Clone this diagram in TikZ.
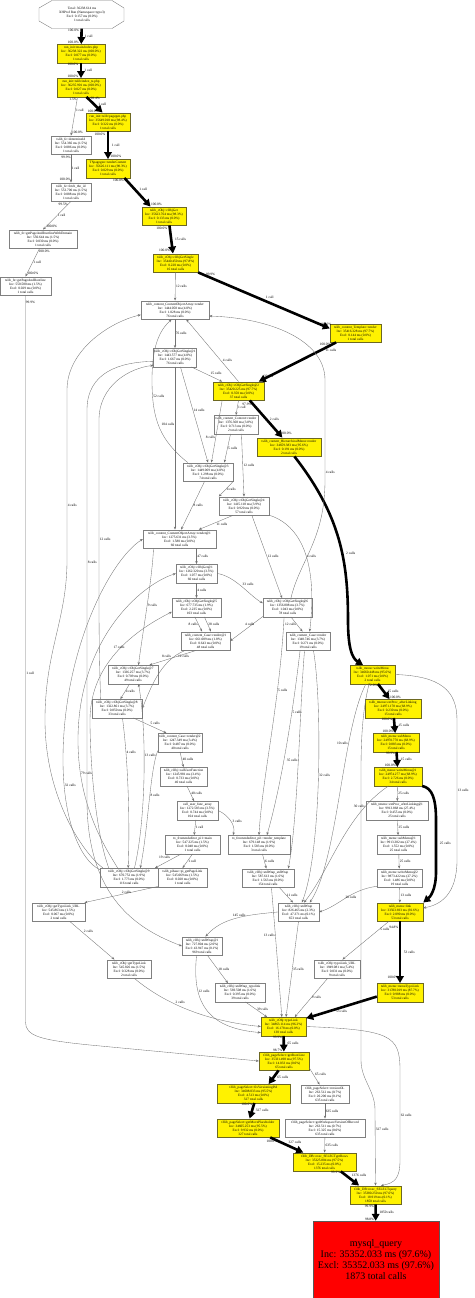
\documentclass[tikz,border=0pt]{standalone}
\usepackage{fontspec}
\setmainfont{Liberation Serif}
\usetikzlibrary{arrows.meta}
\newcommand\fnsize{\fontsize{3.4}{4.1}\selectfont}
\newcommand\lbsize{\fontsize{3.5}{4}\selectfont}

\begin{document}
\begin{tikzpicture}[
  x=1pt, y=-1pt,
  fn/.style={rectangle, draw=gray, line width=0.4pt, fill=white,
             inner xsep=1pt, inner ysep=0.8pt, minimum height=18.5, font=\fnsize, align=center},
  hotfn/.style={fn, fill=yellow, draw=olive!70!black},
  call/.style={-{Stealth[length=3pt,width=2.4pt]}, draw=black!55, line width=0.35pt},
  hotcall/.style={-{Triangle[length=7pt,width=7.5pt]}, line width=2.6pt, black},
  lbl/.style={font=\lbsize, inner sep=0.6pt},
  pct/.style={font=\lbsize, inner sep=0.3pt}
]
\useasboundingbox (0,0) rectangle (474,1298);

% root of the run
\draw[draw=gray, line width=0.4pt] (52,0.5) -- (112,0.5) -- (124,8) -- (124,21) -- (112,28.5)
  -- (52,28.5) -- (39,21) -- (39,8) -- cycle;
\node[font=\fnsize, align=center, minimum height=28, minimum width=60, inner sep=0pt] (root) at (82,14.5)
  {Total: 36238.614 ms\\XHProf Run (Namespace=typo3)\\Excl: 0.157 ms (0.0\%)\\1 total calls};

% functions
\node[hotfn, minimum width=48] (idx) at (81,53.5) {run\_init::main/index.php\\Inc: 36238.322 ms (100.0\%)\\Excl: 0.077 ms (0.0\%)\\1 total calls};
\node[hotfn, minimum width=48] (idxts) at (81,87.5) {run\_init::tslib/index\_ts.php\\Inc: 36235.901 ms (100.0\%)\\Excl: 0.027 ms (0.0\%)\\1 total calls};
\node[hotfn, minimum width=44] (pagegen) at (108,122) {run\_init::tslib/pagegen.php\\Inc: 35649.018 ms (98.4\%)\\Excl: 0.322 ms (0.0\%)\\1 total calls};
\node[fn, minimum width=40] (determineId) at (71,145) {tslib\_fe::determineId\\Inc: 554.366 ms (1.5\%)\\Excl: 0.086 ms (0.0\%)\\1 total calls};
\node[hotfn, minimum width=44] (renderContent) at (108,168.5) {TSpagegen::renderContent\\Inc: 35626.111 ms (98.3\%)\\Excl: 0.029 ms (0.0\%)\\1 total calls};
\node[fn, minimum width=40] (fetchId) at (71,192) {tslib\_fe::fetch\_the\_id\\Inc: 553.700 ms (1.5\%)\\Excl: 0.088 ms (0.0\%)\\1 total calls};
\node[hotfn, minimum width=44] (cObjGet) at (164,216) {tslib\_cObj::cObjGet\\Inc: 35623.764 ms (98.3\%)\\Excl: 0.133 ms (0.0\%)\\1 total calls};
\node[fn, minimum width=68] (getPRWD) at (43,239) {tslib\_fe::getPageAndRootlineWithDomain\\Inc: 550.644 ms (1.5\%)\\Excl: 0.030 ms (0.0\%)\\1 total calls};
\node[fn, minimum width=51] (getPR) at (25.5,286) {tslib\_fe::getPageAndRootline\\Inc: 550.580 ms (1.5\%)\\Excl: 0.029 ms (0.0\%)\\1 total calls};
\node[hotfn, minimum width=45] (gsY) at (175.5,263) {tslib\_cObj::cObjGetSingle\\Inc: 35440.450 ms (97.8\%)\\Excl: 0.220 ms (0.0\%)\\16 total calls};
\node[fn, minimum width=68] (coa) at (175,310) {tslib\_content\_ContentObjectArray::render\\Inc: 1444.058 ms (4.0\%)\\Excl: 1.028 ms (0.0\%)\\76 total calls};
\node[hotfn, minimum width=51] (tmpl) at (355.5,333) {tslib\_content\_Template::render\\Inc: 35416.328 ms (97.7\%)\\Excl: 0.144 ms (0.0\%)\\1 total calls};
\node[fn, minimum width=42] (gs1) at (175,357.5) {tslib\_cObj::cObjGetSingle@1\\Inc: 1443.577 ms (4.0\%)\\Excl: 1.667 ms (0.0\%)\\76 total calls};
\node[hotfn, minimum width=51] (gs1y) at (238.5,391) {tslib\_cObj::cObjGetSingle@2\\Inc: 35420.225 ms (97.7\%)\\Excl: 0.350 ms (0.0\%)\\37 total calls};
\node[fn, minimum width=44] (contentRender) at (236,424.5) {tslib\_content\_Content::render\\Inc: 1376.368 ms (3.8\%)\\Excl: 0.713 ms (0.0\%)\\2 total calls};
\node[hotfn, minimum width=64] (hmenu) at (289,447) {tslib\_content\_HierarchicalMenu::render\\Inc: 34659.383 ms (95.6\%)\\Excl: 0.191 ms (0.0\%)\\2 total calls};
\node[fn, minimum width=50] (gs2) at (208,472) {tslib\_cObj::cObjGetSingle@3\\Inc: 1449.069 ms (4.0\%)\\Excl: 1.298 ms (0.0\%)\\74 total calls};
\node[fn, minimum width=50] (gs3) at (244,506) {tslib\_cObj::cObjGetSingle@4\\Inc: 1415.118 ms (3.9\%)\\Excl: 0.920 ms (0.0\%)\\57 total calls};
\node[fn, minimum width=73] (coa1) at (179.5,539) {tslib\_content\_ContentObjectArray::render@1\\Inc: 1275.631 ms (3.5\%)\\Excl: 1.580 ms (0.0\%)\\60 total calls};
\node[fn, minimum width=41] (cObjGet1) at (196.5,573.5) {tslib\_cObj::cObjGet@1\\Inc: 1262.320 ms (3.5\%)\\Excl: 1.077 ms (0.0\%)\\60 total calls};
\node[fn, minimum width=49] (gs4) at (196.5,607.5) {tslib\_cObj::cObjGetSingle@5\\Inc: 677.735 ms (1.9\%)\\Excl: 2.235 ms (0.0\%)\\103 total calls};
\node[fn, minimum width=49] (gs5) at (287.5,607.5) {tslib\_cObj::cObjGetSingle@6\\Inc: 1356.808 ms (3.7\%)\\Excl: 1.043 ms (0.0\%)\\78 total calls};
\node[fn, minimum width=49] (caseRender1) at (205.5,641) {tslib\_content\_Case::render@1\\Inc: 661.089 ms (1.8\%)\\Excl: 0.643 ms (0.0\%)\\48 total calls};
\node[fn, minimum width=44] (caseRender) at (308,641) {tslib\_content\_Case::render\\Inc: 1348.746 ms (3.7\%)\\Excl: 0.271 ms (0.0\%)\\19 total calls};
\node[hotfn, minimum width=45] (writeMenu) at (372.5,674.5) {tslib\_menu::writeMenu\\Inc: 34660.448 ms (95.6\%)\\Excl: 1.071 ms (0.0\%)\\2 total calls};
\node[fn, minimum width=50] (gs6) at (133,674.5) {tslib\_cObj::cObjGetSingle@7\\Inc: 1336.257 ms (3.7\%)\\Excl: 0.709 ms (0.0\%)\\49 total calls};
\node[fn, minimum width=50] (gs7) at (117,708.5) {tslib\_cObj::cObjGetSingle@8\\Inc: 1322.861 ms (3.7\%)\\Excl: 0.850 ms (0.0\%)\\33 total calls};
\node[hotfn, minimum width=56] (afterLinking) at (393,708.5) {tslib\_tmenu::extProc\_afterLinking\\Inc: 24971.178 ms (68.9\%)\\Excl: 0.230 ms (0.0\%)\\15 total calls};
\node[fn, minimum width=44] (caseRender2) at (180,742.5) {tslib\_content\_Case::render@2\\Inc: 1247.349 ms (3.4\%)\\Excl: 0.487 ms (0.0\%)\\40 total calls};
\node[hotfn, minimum width=46] (subMenu) at (396,742.5) {tslib\_menu::subMenu\\Inc: 24970.770 ms (68.9\%)\\Excl: 0.883 ms (0.0\%)\\15 total calls};
\node[fn, minimum width=47] (cuf) at (183.5,776.5) {tslib\_cObj::callUserFunction\\Inc: 1245.981 ms (3.4\%)\\Excl: 0.733 ms (0.0\%)\\40 total calls};
\node[hotfn, minimum width=48] (writeMenu1) at (398,776.5) {tslib\_menu::writeMenu@1\\Inc: 24974.277 ms (68.9\%)\\Excl: 2.726 ms (0.0\%)\\34 total calls};
\node[fn, minimum width=41] (cufa) at (197.5,810.5) {call\_user\_func\_array\\Inc: 1272.583 ms (3.5\%)\\Excl: 0.744 ms (0.0\%)\\104 total calls};
\node[fn, minimum width=62] (afterLinking1) at (397,810.5) {tslib\_tmenu::extProc\_afterLinking@1\\Inc: 9913.868 ms (27.4\%)\\Excl: 0.455 ms (0.0\%)\\25 total calls};
\node[fn, minimum width=55] (feMain) at (192.5,844.5) {tx\_frontendeditor\_pi1::main\\Inc: 547.325 ms (1.5\%)\\Excl: 0.048 ms (0.0\%)\\1 total calls};
\node[fn, minimum width=62] (renderTemplate) at (259,844.5) {tx\_frontendeditor\_pi1::render\_template\\Inc: 679.148 ms (1.9\%)\\Excl: 1.583 ms (0.0\%)\\3 total calls};
\node[fn, minimum width=43] (subMenu1) at (398.5,844.5) {tslib\_menu::subMenu@1\\Inc: 9913.382 ms (27.4\%)\\Excl: 1.552 ms (0.0\%)\\25 total calls};
\node[fn, minimum width=58] (gs8) at (129,877.5) {tslib\_cObj::cObjGetSingle@9\\Inc: 670.752 ms (1.9\%)\\Excl: 1.773 ms (0.0\%)\\116 total calls};
\node[fn, minimum width=49] (piGetPageLink) at (182.5,877.5) {tslib\_pibase::pi\_getPageLink\\Inc: 545.069 ms (1.5\%)\\Excl: 0.028 ms (0.0\%)\\1 total calls};
\node[fn, minimum width=52] (stdWrapX) at (268,878) {tslib\_cObj::stdWrap\_stdWrap\\Inc: 587.613 ms (1.6\%)\\Excl: 1.563 ms (0.0\%)\\154 total calls};
\node[fn, minimum width=45] (writeMenu2) at (399.5,878) {tslib\_menu::writeMenu@2\\Inc: 9873.422 ms (27.2\%)\\Excl: 1.486 ms (0.0\%)\\19 total calls};
\node[fn, minimum width=53] (getTypoLinkURL) at (58.5,912) {tslib\_cObj::getTypoLink\_URL\\Inc: 545.863 ms (1.5\%)\\Excl: 0.067 ms (0.0\%)\\2 total calls};
\node[fn, minimum width=41] (stdWrap) at (298.5,912) {tslib\_cObj::stdWrap\\Inc: 826.465 ms (2.3\%)\\Excl: 47.371 ms (0.1\%)\\653 total calls};
\node[hotfn, minimum width=46] (link) at (400,912) {tslib\_menu::link\\Inc: 33563.693 ms (92.6\%)\\Excl: 2.090 ms (0.0\%)\\53 total calls};
\node[fn, minimum width=40] (stdWrap1) at (202,946) {tslib\_cObj::stdWrap@1\\Inc: 727.804 ms (2.0\%)\\Excl: 43.947 ms (0.1\%)\\969 total calls};
\node[fn, minimum width=44] (getTypoLink) at (129,969) {tslib\_cObj::getTypoLink\\Inc: 545.826 ms (1.5\%)\\Excl: 0.328 ms (0.0\%)\\2 total calls};
\node[fn, minimum width=46] (typoLinkURL) at (337,969) {tslib\_cObj::typoLink\_URL\\Inc: 1949.081 ms (5.4\%)\\Excl: 0.031 ms (0.0\%)\\9 total calls};
\node[fn, minimum width=50] (stdWrapTypolink) at (240,992.5) {tslib\_cObj::stdWrap\_typolink\\Inc: 569.508 ms (1.6\%)\\Excl: 0.395 ms (0.0\%)\\39 total calls};
\node[hotfn, minimum width=46] (menuTypoLink) at (400,992.5) {tslib\_menu::menuTypoLink\\Inc: 31780.019 ms (87.7\%)\\Excl: 0.988 ms (0.0\%)\\53 total calls};
\node[hotfn, minimum width=45] (typoLink) at (283.5,1026.5) {tslib\_cObj::typoLink\\Inc: 34863.114 ms (96.2\%)\\Excl: 16.178 ms (0.0\%)\\130 total calls};
\node[hotfn, minimum width=50] (getRootLine) at (284,1061) {t3lib\_pageSelect::getRootLine\\Inc: 35331.498 ms (97.5\%)\\Excl: 14.033 ms (0.0\%)\\65 total calls};
\node[hotfn, minimum width=73] (fixVPid) at (253.5,1093.5) {t3lib\_pageSelect::fixVersioningPid\\Inc: 34608.033 ms (95.5\%)\\Excl: 4.513 ms (0.0\%)\\327 total calls};
\node[fn, minimum width=48] (versionOL) at (325,1094) {t3lib\_pageSelect::versionOL\\Inc: 263.512 ms (0.7\%)\\Excl: 20.200 ms (0.1\%)\\635 total calls};
\node[hotfn, minimum width=62] (getMovePH) at (248,1128) {t3lib\_pageSelect::getMovePlaceholder\\Inc: 34605.253 ms (95.5\%)\\Excl: 9.932 ms (0.0\%)\\327 total calls};
\node[fn, minimum width=80] (getWVOR) at (325,1128) {t3lib\_pageSelect::getWorkspaceVersionOfRecord\\Inc: 263.511 ms (0.7\%)\\Excl: 15.325 ms (0.0\%)\\635 total calls};
\node[hotfn, minimum width=63] (execGetRows) at (324.5,1162) {t3lib\_DB::exec\_SELECTgetRows\\Inc: 35325.804 ms (97.5\%)\\Excl: 15.235 ms (0.0\%)\\1376 total calls};
\node[hotfn, minimum width=51] (execQuery) at (375.5,1195) {t3lib\_DB::exec\_SELECTquery\\Inc: 35380.250 ms (97.6\%)\\Excl: 18.919 ms (0.1\%)\\1850 total calls};
\node[fn, fill=red, draw=gray!70!black, minimum width=126, minimum height=77, font=\fontsize{10}{10.8}\selectfont]
  (mysql) at (376,1259.5) {mysql\_query\\Inc: 35352.033 ms (97.6\%)\\Excl: 35352.033 ms (97.6\%)\\1873 total calls};

% critical path
\draw[hotcall] (root) -- (idx) node[lbl,midway,right=1.5pt]{1 call} node[pct,pos=0.1,left=1pt]{100.0\%} node[pct,pos=0.9,left=1pt]{100.0\%};
\draw[hotcall] (idx) -- (idxts) node[lbl,midway,right=1.5pt]{1 call} node[pct,pos=0.1,left=1pt]{100.0\%} node[pct,pos=0.9,left=1pt]{100.0\%};
\draw[hotcall] (idxts.300) -- (pagegen.120) node[lbl,midway,right=2pt]{1 call} node[pct,pos=0.1,right=1pt]{98.4\%} node[pct,pos=0.92,left=1pt]{100.0\%};
\draw[hotcall] (pagegen) -- (renderContent) node[lbl,midway,right=2pt]{1 call} node[pct,pos=0.1,left=1pt]{100.0\%} node[pct,pos=0.9,right=1pt]{100.0\%};
\draw[hotcall] (renderContent.330) -- (cObjGet.145) node[lbl,midway,above right]{1 call} node[pct,pos=0.08,left=1pt]{100.0\%} node[pct,pos=0.92,right=1pt]{100.0\%};
\draw[hotcall] (cObjGet.300) -- (gsY.105) node[lbl,midway,right=2pt]{15 calls} node[pct,pos=0.1,left=1pt]{100.0\%} node[pct,pos=0.9,left=1pt]{100.0\%};
\draw[hotcall] (gsY.south east) -- (tmpl.170) node[lbl,midway,above right]{1 call} node[pct,pos=0.04,right=1pt]{99.9\%} node[pct,pos=0.97,above]{100.0\%};
\draw[hotcall] (tmpl.206) -- (gs1y.25) node[lbl,pos=0.2,right=3pt]{11 calls} node[pct,pos=0.05,left]{100.0\%} node[pct,pos=0.95,above right]{30.3\%};
\draw[hotcall] (gs1y.320) -- (hmenu.125) node[lbl,midway,right=2pt]{2 calls} node[pct,pos=0.1,left]{97.9\%} node[pct,pos=0.9,right]{100.0\%};
\draw[hotcall] (hmenu.300) .. controls (340,515) and (348,560) .. (348,620) node[lbl,pos=0.6,right=2pt]{2 calls}
  .. controls (348,648) and (352,658) .. (writeMenu.135);
\draw[hotcall] (writeMenu.300) -- (afterLinking.110) node[lbl,midway,right=2pt]{15 calls} node[pct,pos=0.1,left]{72.0\%} node[pct,pos=0.9,right]{100.0\%};
\draw[hotcall] (afterLinking) -- (subMenu) node[lbl,midway,right=2pt]{15 calls} node[pct,pos=0.1,left]{100.0\%} node[pct,pos=0.9,left]{100.0\%};
\draw[hotcall] (subMenu) -- (writeMenu1) node[lbl,midway,right=2pt]{15 calls} node[pct,pos=0.1,left]{99.9\%} node[pct,pos=0.9,left]{100.0\%};
\draw[hotcall] (writeMenu1.south east) .. controls (432,788) and (436,798) .. (436,820) -- (436,872) node[lbl,pos=0.45,right=2pt]{25 calls}
  .. controls (436,890) and (430,897) .. (link.north east);
\draw[hotcall] (link) -- (menuTypoLink) node[lbl,midway,right=2pt]{53 calls} node[pct,pos=0.1,left]{94.8\%} node[pct,pos=0.9,left]{100.0\%};
\draw[hotcall] (menuTypoLink.190) -- (typoLink.20) node[lbl,midway,below=1pt]{53 calls};
\draw[hotcall] (typoLink) -- (getRootLine) node[lbl,midway,right=2pt]{65 calls} node[pct,pos=0.1,left]{99.9\%} node[pct,pos=0.9,left]{98.7\%};
\draw[hotcall] (getRootLine.240) -- (fixVPid.32) node[lbl,midway,right=2pt]{65 calls};
\draw[hotcall] (fixVPid.275) -- (getMovePH.80) node[lbl,midway,right=2pt]{327 calls} node[pct,pos=0.1,left]{100.0\%};
\draw[hotcall] (getMovePH.337) -- (execGetRows.156) node[lbl,midway,above right]{327 calls} node[pct,pos=0.05,below]{100.0\%};
\draw[hotcall] (execGetRows.330) -- (execQuery.150) node[lbl,midway,above right]{1376 calls} node[pct,pos=0.05,left]{99.9\%};
\draw[hotcall] (execQuery) -- (mysql) node[lbl,midway,right=2pt]{1850 calls} node[pct,pos=0.1,left]{99.9\%} node[pct,pos=0.9,left]{98.8\%};

% page id lookup
\draw[call] (idxts.250) -- (determineId.north) node[lbl,pos=0.35,right]{1 call} node[pct,pos=0.06,left]{1.5\%} node[pct,pos=0.92,right]{100.0\%};
\draw[call] (determineId) -- (fetchId) node[lbl,midway,right]{1 call} node[pct,pos=0.1,left]{99.9\%} node[pct,pos=0.9,left]{100.0\%};
\draw[call] (fetchId.south) -- (getPRWD.north) node[lbl,midway,right]{1 call} node[pct,pos=0.1,left]{99.5\%} node[pct,pos=0.9,right]{100.0\%};
\draw[call] (getPRWD.250) -- (getPR.north) node[lbl,midway,right]{1 call} node[pct,pos=0.1,right]{100.0\%} node[pct,pos=0.9,right]{100.0\%};
\draw[call] (getPR.south) -- (getPR.south |- 0,1022) node[lbl,pos=0.52,right]{1 call} node[pct,pos=0.01,right]{99.9\%}
  .. controls (25.5,1036) and (40,1040) .. (90,1045) -- (getRootLine.west);

% content objects
\draw[call] (gsY) -- (coa) node[lbl,midway,right]{12 calls};
\draw[call] (coa) -- (gs1) node[lbl,midway,right]{76 calls};
\draw[call] (gs1.330) -- (gs1y.150) node[lbl,pos=0.6,above right]{15 calls};
\draw[call] (gs1y.north) -- (coa.320) node[lbl,pos=0.35,right=2pt]{4 calls};
\draw[call] (gs2.155) .. controls (160,440) and (152,420) .. (152,380) node[lbl,pos=0.85,right]{52 calls}
  .. controls (152,345) and (160,330) .. (coa.250);
\draw[call] (gs1.south) -- (gs1.south |- coa1.north) node[lbl,pos=0.35,left]{104 calls};
\draw[call] (gs1.300) -- (gs2.north) node[lbl,pos=0.45,right]{14 calls};
\draw[call] (gs1y.210) -- (gs2.70) node[lbl,pos=0.6,left]{8 calls};
\draw[call] (contentRender.240) -- (gs2.30) node[lbl,pos=0.5,right]{5 calls};
\draw[call] (gs2.250) -- (coa1.80) node[lbl,midway,right]{8 calls};
\draw[call] (gs2.south east) -- (gs3.north west) node[lbl,midway,right]{4 calls};
\draw[call] (gs3.220) -- (coa1.26) node[lbl,midway,below right]{11 calls};
\draw[call] (gs1y.south) -- (contentRender.north) node[lbl,midway,right]{1 call};
\draw[call] (contentRender.300) -- (gs3.north) node[lbl,midway,right]{12 calls};
\draw[call] (gs3.310) -- (gs5.120) node[lbl,midway,right]{12 calls};
\draw[call] (gs3.340) .. controls (300,525) and (318,560) .. (caseRender.80) node[lbl,pos=0.55,right]{4 calls};
\draw[call] (gs5.70) .. controls (300,560) and (325,540) .. (325,480) -- (325,380) node[lbl,pos=0.08,right]{4 calls}
  .. controls (325,340) and (270,318) .. (coa.350);
\draw[call] (coa1.south -| cObjGet1.north) -- (cObjGet1.north) node[lbl,midway,right]{47 calls};
\draw[call] (cObjGet1) -- (gs4) node[lbl,midway,right]{4 calls};
\draw[call] (cObjGet1.east) .. controls (235,576) and (250,596) .. (gs5.170) node[lbl,pos=0.5,above right]{33 calls};
\draw[call] (gs4.260) -- (caseRender1.110) node[lbl,midway,left]{8 calls};
\draw[call] (gs4.310) -- (caseRender1.60) node[lbl,midway,right]{28 calls};
\draw[call] (gs5.290) -- (caseRender.120) node[lbl,midway,left]{12 calls};
\draw[call] (gs5.200) -- (caseRender1.east) node[lbl,pos=0.4,above]{4 calls};
\draw[call] (coa1.200) .. controls (152,580) and (143,630) .. (gs6.60) node[lbl,pos=0.5,right]{9 calls};
\draw[call] (caseRender1.225) -- (gs6.30) node[lbl,pos=0.4,right]{12 calls};
\draw[call] (caseRender1.205) .. controls (160,660) and (150,690) .. (gs7.east) node[lbl,pos=0.2,above left]{8 calls};
\draw[call] (gs6.250) -- (gs7.70) node[lbl,midway,right]{4 calls};
\draw[call] (gs7.330) -- (caseRender2.145) node[lbl,midway,above right]{5 calls};
\draw[call] (caseRender2.south) -- (cuf.north) node[lbl,midway,right]{40 calls};
\draw[call] (cuf.290) -- (cufa.110) node[lbl,midway,right]{40 calls};
\draw[call] (cufa.260) -- (feMain.80) node[lbl,midway,right]{1 call};
\draw[call] (feMain.220) -- (gs8.20) node[lbl,pos=0.4,above left]{19 calls};
\draw[call] (feMain.south) -- (piGetPageLink.north) node[lbl,midway,right]{1 call};

% long recursion loops on the left
\draw[call] (gs8.160) .. controls (85,855) and (45,800) .. (45,720) .. controls (45,650) and (67,620) .. (67,560)
  -- (67,390) node[lbl,pos=0.32,right]{4 calls} .. controls (67,350) and (110,322) .. (coa.188);
\draw[call] (gs1.190) .. controls (120,362) and (87,372) .. (87,410) -- (87,800) node[lbl,pos=0.39,right]{8 calls}
  .. controls (87,900) and (140,930) .. (stdWrap1.west);
\draw[call] (gs7.150) .. controls (100,680) and (99,650) .. (99,600) -- (99,420) node[lbl,pos=0.34,right]{12 calls}
  .. controls (99,385) and (130,368) .. (gs1.200);
\draw[call] (gs8.165) .. controls (80,860) and (63,820) .. (63,760) node[lbl,pos=0.85,right]{32 calls}
  .. controls (63,650) and (110,560) .. (coa1.west);
\draw[call] (gs8.140) .. controls (100,840) and (78,800) .. (78,740) node[lbl,pos=0.8,right]{79 calls}
  .. controls (78,640) and (140,585) .. (cObjGet1.west);
\draw[call] (gs8.155) .. controls (95,830) and (90,760) .. (90,720) .. controls (90,660) and (140,628) .. (gs4.190)
  node[lbl,pos=0.5,above]{17 calls};
\draw[call] (gs7.300) .. controls (128,760) and (130,820) .. (gs8.95) node[lbl,pos=0.25,right]{4 calls};
\draw[call] (gs8.60) .. controls (146,820) and (147,730) .. (gs6.300) node[lbl,pos=0.6,right]{13 calls};
\draw[call] (caseRender2.200) .. controls (150,770) and (148,830) .. (gs8.40) node[lbl,pos=0.45,right]{8 calls};

% typolink calls
\draw[call] (piGetPageLink.200) -- (getTypoLinkURL.20) node[lbl,midway,above right]{2 calls};
\draw[call] (getTypoLinkURL.320) -- (getTypoLink.147) node[lbl,pos=0.3,above right]{2 calls};
\draw[call] (getTypoLink.300) .. controls (170,1008) and (215,1022) .. (typoLink.west) node[lbl,pos=0.35,above right]{2 calls};
\draw[call] (stdWrap1.240) .. controls (192,1000) and (205,1028) .. (typoLink.195) node[lbl,pos=0.3,right]{12 calls};
\draw[call] (stdWrap1.300) -- (stdWrapTypolink.142) node[lbl,midway,right]{18 calls};
\draw[call] (stdWrapTypolink.300) -- (typoLink.150) node[lbl,midway,right]{39 calls};
\draw[call] (stdWrap.west) .. controls (245,915) and (222,918) .. (stdWrap1.70) node[lbl,pos=0.45,above]{145 calls};
\draw[call] (stdWrap.south) -- (typoLink.75) node[lbl,midway,right]{35 calls};
\draw[call] (stdWrapX.290) .. controls (275,930) .. (typoLink.100) node[lbl,pos=0.5,left]{13 calls};
\draw[call] (typoLinkURL.225) -- (typoLink.40) node[lbl,midway,right]{9 calls};
\draw[call] (link.220) -- (typoLinkURL.60) node[lbl,pos=0.2,right]{5 calls};
\draw[call] (renderTemplate.290) -- (stdWrapX.100) node[lbl,midway,right]{6 calls};
\draw[call] (stdWrapX.320) -- (stdWrap.120) node[lbl,midway,right]{11 calls};
\draw[call] (caseRender.300) .. controls (322,700) and (322,850) .. (stdWrap.70) node[lbl,pos=0.5,right]{32 calls};
\draw[call] (caseRender.250) .. controls (300,700) and (298,820) .. (stdWrapX.25) node[lbl,pos=0.5,left]{35 calls};
\draw[call] (gs5.250) .. controls (280,700) and (262,780) .. (renderTemplate.north) node[lbl,pos=0.3,right]{5 calls};
\draw[call] (caseRender.230) .. controls (292,720) and (280,790) .. (renderTemplate.50) node[lbl,pos=0.3,right]{5 calls};
\draw[call] (cufa.east) .. controls (228,815) and (236,825) .. (renderTemplate.160) node[lbl,pos=0.6,above right]{3 calls};

% menu items
\draw[call] (writeMenu1) -- (afterLinking1) node[lbl,midway,right]{25 calls};
\draw[call] (afterLinking1) -- (subMenu1) node[lbl,midway,right]{25 calls};
\draw[call] (subMenu1) -- (writeMenu2) node[lbl,midway,right]{25 calls};
\draw[call] (writeMenu2) -- (link) node[lbl,midway,right]{13 calls};
\draw[call] (writeMenu.east) .. controls (440,676) and (457,690) .. (457,720) -- (457,860) node[lbl,pos=0.5,right]{13 calls}
  .. controls (457,895) and (440,905) .. (link.10);
\draw[call] (writeMenu.235) .. controls (342,730) and (338,860) .. (stdWrap.40) node[lbl,pos=0.3,left]{10 calls};
\draw[call] (writeMenu1.225) .. controls (345,815) and (330,870) .. (stdWrap.60) node[lbl,pos=0.2,left]{30 calls};
\draw[call] (writeMenu2.200) .. controls (350,890) and (340,905) .. (stdWrap.east) node[lbl,pos=0.4,below]{26 calls};
\draw[call] (writeMenu.250) .. controls (360,720) and (361,760) .. (361,800) -- (361,1060)
  .. controls (361,1080) and (375,1090) .. (375,1110) -- (execQuery.north) node[lbl,pos=0.25,right]{327 calls};

% database access
\draw[call] (getRootLine.345) -- (versionOL.120) node[lbl,midway,above right]{65 calls};
\draw[call] (versionOL) -- (getWVOR) node[lbl,midway,right]{635 calls};
\draw[call] (getWVOR) -- (execGetRows) node[lbl,midway,right]{635 calls};
\draw[call] (typoLink.east) .. controls (390,1030) and (400,1035) .. (400,1070) -- (400,1160) node[lbl,pos=0.5,right]{62 calls}
  .. controls (400,1178) and (395,1183) .. (execQuery.60);
\end{tikzpicture}
\end{document}
